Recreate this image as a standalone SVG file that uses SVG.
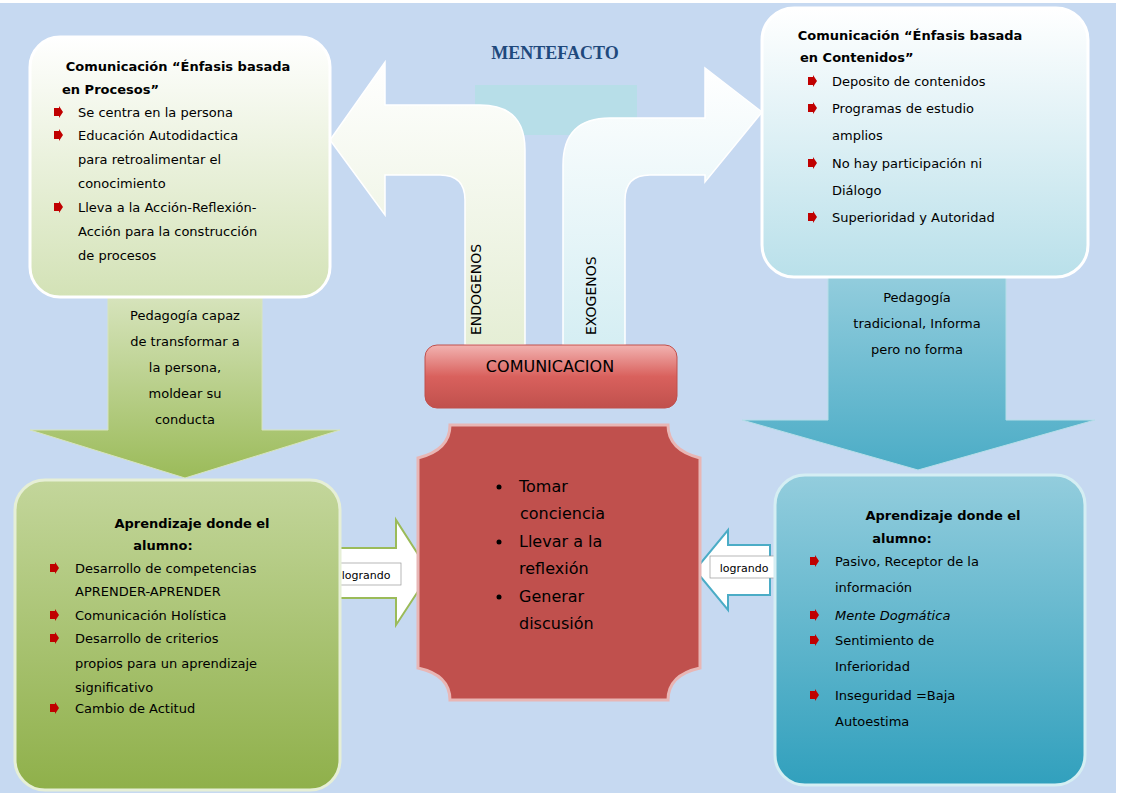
<svg xmlns="http://www.w3.org/2000/svg" width="1128" height="804" viewBox="0 0 1128 804">
<defs>
<linearGradient id="gLG" x1="0" y1="0" x2="0" y2="1"><stop offset="0" stop-color="#ffffff"/><stop offset="1" stop-color="#d3e2b6"/></linearGradient>
<linearGradient id="gLB" x1="0" y1="0" x2="0" y2="1"><stop offset="0" stop-color="#ffffff"/><stop offset="1" stop-color="#b9e0ea"/></linearGradient>
<linearGradient id="gG" x1="0" y1="0" x2="0" y2="1"><stop offset="0" stop-color="#c3d69b"/><stop offset="1" stop-color="#8fb04a"/></linearGradient>
<linearGradient id="gB" x1="0" y1="0" x2="0" y2="1"><stop offset="0" stop-color="#93cddd"/><stop offset="1" stop-color="#31a0bd"/></linearGradient>
<linearGradient id="gGA" x1="0" y1="0" x2="0" y2="1"><stop offset="0" stop-color="#d7e4bd"/><stop offset="1" stop-color="#9bbb59"/></linearGradient>
<linearGradient id="gBA" x1="0" y1="0" x2="0" y2="1"><stop offset="0" stop-color="#93cddd"/><stop offset="1" stop-color="#4bacc6"/></linearGradient>
<linearGradient id="gR" x1="0" y1="0" x2="0" y2="1"><stop offset="0" stop-color="#f2b3b1"/><stop offset="0.5" stop-color="#d9615d"/><stop offset="1" stop-color="#c0504d"/></linearGradient>
<linearGradient id="gEn" x1="0" y1="0" x2="0" y2="1"><stop offset="0" stop-color="#ffffff"/><stop offset="1" stop-color="#e5eed5"/></linearGradient>
<linearGradient id="gEx" x1="0" y1="0" x2="0" y2="1"><stop offset="0" stop-color="#ffffff"/><stop offset="1" stop-color="#d5eef3"/></linearGradient>
<path id="bul" d="M0,-4 h5 v-2 l4,6 l-4,6 v-2 h-5z"/>
</defs>
<style>
text{font-family:"DejaVu Sans","Liberation Sans",sans-serif;font-size:13px;fill:#000}
.b{font-weight:bold}
.c{text-anchor:middle}
.bul{fill:#c00000}
.big{font-size:16px}
</style>
<rect width="1128" height="804" fill="#ffffff"/>
<rect x="0" y="3" width="1116" height="790" fill="#c6d9f1"/>
<g id="title">
<text x="555" y="59" class="c b" style="font-family:'Liberation Serif',serif;font-size:18px;fill:#1f497d">MENTEFACTO</text>
<rect x="475" y="85" width="162" height="50" fill="#b7dee8"/>
</g>
<g id="connectors">
<path d="M465,345 V200 Q465,175 440,175 H385 V215 L330,140 L385,62 V105 H480 Q525,105 525,150 V345 Z" fill="url(#gEn)" stroke="#fff" stroke-width="1.5"/>
<path d="M563,345 V165 Q563,118 610,118 H705 V68 L762,112 L705,182 V175 H650 Q625,175 625,200 V345 Z" fill="url(#gEx)" stroke="#fff" stroke-width="1.5"/>
<path d="M108,295 H262 V430 H340 L185,478 L30,430 H108 Z" fill="url(#gGA)" stroke="#d7e4bd"/>
<path d="M828,275 H1006 V420 H1095 L918,470 L742,420 H828 Z" fill="url(#gBA)" stroke="#b7dee8"/>
<path d="M325,548 H396 V520 L430,573 L396,625 V598 H325 Z" fill="#fff" stroke="#9bbb59" stroke-width="2"/>
<path d="M770,545 H728 V530 L695,570 L728,610 V595 H770 Z" fill="#fff" stroke="#4bacc6" stroke-width="2"/>
<rect x="331" y="563" width="70" height="22" fill="#fff" stroke="#999" stroke-width="0.7"/>
<text x="366" y="579" class="c" style="font-size:11px">logrando</text>
<rect x="710" y="556" width="68" height="22" fill="#fff" stroke="#999" stroke-width="0.7"/>
<text x="744" y="572" class="c" style="font-size:11px">logrando</text>
<text transform="translate(481,335) rotate(-90)" style="font-size:14px">ENDOGENOS</text>
<text transform="translate(596,335) rotate(-90)" style="font-size:14px">EXOGENOS</text>
</g>
<g id="n1">
<rect x="30" y="37" width="300" height="260" rx="30" fill="url(#gLG)" stroke="#fff" stroke-width="3"/>
<text x="178" y="71" class="c b">Comunicación  “Énfasis basada</text>
<text x="62" y="94" class="b">en Procesos”</text>
<use href="#bul" x="54" y="112" class="bul"/><text x="78" y="117">Se centra en la persona</text>
<use href="#bul" x="54" y="135" class="bul"/><text x="78" y="140">Educación Autodidactica</text>
<text x="78" y="164">para retroalimentar el</text>
<text x="78" y="188">conocimiento</text>
<use href="#bul" x="54" y="207" class="bul"/><text x="78" y="212">Lleva a la Acción-Reflexión-</text>
<text x="78" y="236">Acción para la construcción</text>
<text x="78" y="260">de procesos</text>
</g>
<g id="n1a">
<text x="185" y="320" class="c">Pedagogía capaz</text>
<text x="185" y="346" class="c">de transformar a</text>
<text x="185" y="372" class="c">la persona,</text>
<text x="185" y="398" class="c">moldear su</text>
<text x="185" y="424" class="c">conducta</text>
</g>
<g id="n2">
<rect x="762" y="8" width="326" height="269" rx="32" fill="url(#gLB)" stroke="#fff" stroke-width="3"/>
<text x="910" y="40" class="c b">Comunicación  “Énfasis basada</text>
<text x="800" y="62" class="b">en Contenidos”</text>
<use href="#bul" x="808" y="81" class="bul"/><text x="832" y="86">Deposito de contenidos</text>
<use href="#bul" x="808" y="108" class="bul"/><text x="832" y="113">Programas de estudio</text>
<text x="832" y="140">amplios</text>
<use href="#bul" x="808" y="163" class="bul"/><text x="832" y="168">No hay participación ni</text>
<text x="832" y="195">Diálogo</text>
<use href="#bul" x="808" y="217" class="bul"/><text x="832" y="222">Superioridad y Autoridad</text>
</g>
<g id="n2a">
<text x="917" y="302" class="c">Pedagogía</text>
<text x="917" y="328" class="c">tradicional, Informa</text>
<text x="917" y="354" class="c">pero no forma</text>
</g>
<g id="n3">
<rect x="425" y="345" width="252" height="63" rx="12" fill="url(#gR)" stroke="#c0504d"/>
<text x="550" y="372" class="c" style="font-size:16px">COMUNICACION</text>
</g>
<g id="n4">
<rect x="15" y="480" width="325" height="310" rx="30" fill="url(#gG)" stroke="#e6efd6" stroke-width="3"/>
<text x="192" y="528" class="c b">Aprendizaje donde el</text>
<text x="163" y="550" class="c b">alumno:</text>
<use href="#bul" x="50" y="568" class="bul"/><text x="75" y="573">Desarrollo de competencias</text>
<text x="75" y="596">APRENDER-APRENDER</text>
<use href="#bul" x="50" y="615" class="bul"/><text x="75" y="620">Comunicación Holística</text>
<use href="#bul" x="50" y="638" class="bul"/><text x="75" y="643">Desarrollo de criterios</text>
<text x="75" y="668">propios para un aprendizaje</text>
<text x="75" y="692">significativo</text>
<use href="#bul" x="50" y="708" class="bul"/><text x="75" y="713">Cambio de Actitud</text>
</g>
<g id="n5">
<path d="M450,425 H668 Q668,450 700,458 V668 Q668,675 668,700 H450 Q450,675 418,668 V458 Q450,450 450,425 Z" fill="#c0504d" stroke="#e8b6b5" stroke-width="3"/>
<circle cx="499" cy="487" r="2.5"/><text x="519" y="492" class="big">Tomar</text>
<text x="520" y="519" class="big">conciencia</text>
<circle cx="499" cy="542" r="2.5"/><text x="519" y="547" class="big">Llevar a la</text>
<text x="519" y="574" class="big">reflexión</text>
<circle cx="499" cy="597" r="2.5"/><text x="519" y="602" class="big">Generar</text>
<text x="519" y="629" class="big">discusión</text>
</g>
<g id="n6">
<rect x="775" y="475" width="310" height="310" rx="30" fill="url(#gB)" stroke="#d5eef3" stroke-width="3"/>
<text x="943" y="520" class="c b">Aprendizaje donde el</text>
<text x="902" y="543" class="c b">alumno:</text>
<use href="#bul" x="810" y="561" class="bul"/><text x="835" y="566">Pasivo, Receptor de la</text>
<text x="835" y="592">información</text>
<use href="#bul" x="810" y="615" class="bul"/><text x="835" y="620" style="font-style:italic">Mente Dogmática</text>
<use href="#bul" x="810" y="640" class="bul"/><text x="835" y="645">Sentimiento de</text>
<text x="835" y="671">Inferioridad</text>
<use href="#bul" x="810" y="695" class="bul"/><text x="835" y="700">Inseguridad =Baja</text>
<text x="835" y="726">Autoestima</text>
</g>
</svg>
